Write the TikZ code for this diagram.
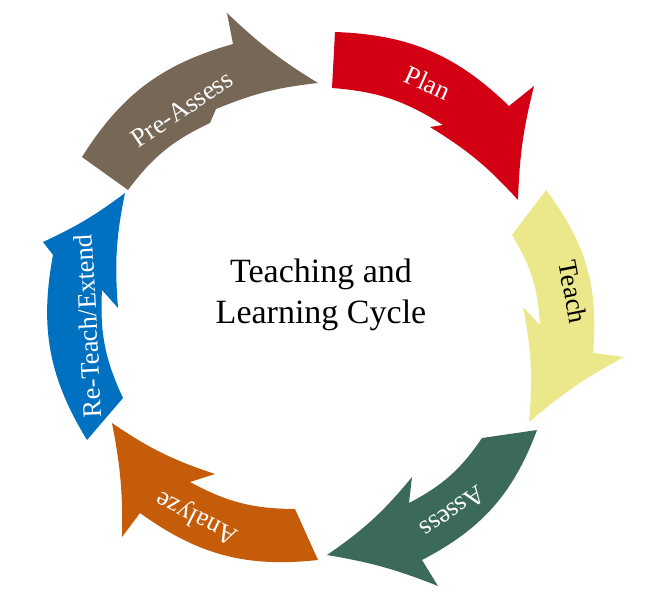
\documentclass[tikz,border=0pt]{standalone}
\usepackage{fontspec}
\setmainfont{Liberation Serif}
\usetikzlibrary{positioning}

\definecolor{preassesscol}{RGB}{118,103,86}
\definecolor{plancol}{RGB}{210,0,18}
\definecolor{teachcol}{RGB}{235,232,139}
\definecolor{assesscol}{RGB}{60,106,90}
\definecolor{analyzecol}{RGB}{197,92,9}
\definecolor{reteachcol}{RGB}{0,112,192}

\tikzset{lab/.style={text=white, inner sep=0pt, font=\fontsize{26.5}{30}\selectfont}}
% tail outer, outer notch, outer barb, tip, inner barb, inner notch, tail inner
\newcommand{\cyclearrow}[8]{%
  \fill[#1] #2 to[bend left=21] #3 -- #4 to[bend right=6] #5
    to[bend right=8] #6 -- #7 to[bend right=14] #8 -- cycle;}

\begin{document}
\begin{tikzpicture}[x=1pt,y=-1pt]
\useasboundingbox (0,0) rectangle (672,604);

\cyclearrow{preassesscol}{(82,157)}{(233,44)}{(227,13)}{(318,83)}{(216,109)}{(210,123)}{(128,190)}
\cyclearrow{plancol}{(335,32)}{(509,106)}{(534,86)}{(518,200)}{(430,127)}{(443,125)}{(332,88)}
\cyclearrow{teachcol}{(546,190)}{(593,353)}{(624,357)}{(529,422)}{(523,307)}{(540,325)}{(512,235)}
\cyclearrow{assesscol}{(537,430)}{(422,560)}{(438,586)}{(327,555)}{(412,477)}{(409,503)}{(482,438)}
\cyclearrow{analyzecol}{(318,560)}{(140,513)}{(122,537)}{(112,423)}{(215,474)}{(190,482)}{(295,509)}
\cyclearrow{reteachcol}{(87,440)}{(53,255)}{(43,242)}{(125,193)}{(118,308)}{(102,290)}{(123,398)}

\node[lab, rotate=34] (preassess) at (182,109) {Pre-Assess};
\node[lab, rotate=-24] (plan) at (428,83) {Plan};
\node[lab, rotate=-79, text=black] (teach) at (573,292) {Teach};
\node[lab, rotate=-145] (assess) at (453,512) {Assess};
\node[lab, rotate=153] (analyze) at (197,517) {Analyze};
\node[lab, rotate=93] (reteach) at (88,326) {Re-Teach/Extend};

\node[align=center, font=\fontsize{34}{41}\selectfont] (title) at (321,295) {Teaching and\\Learning Cycle};
\end{tikzpicture}
\end{document}
